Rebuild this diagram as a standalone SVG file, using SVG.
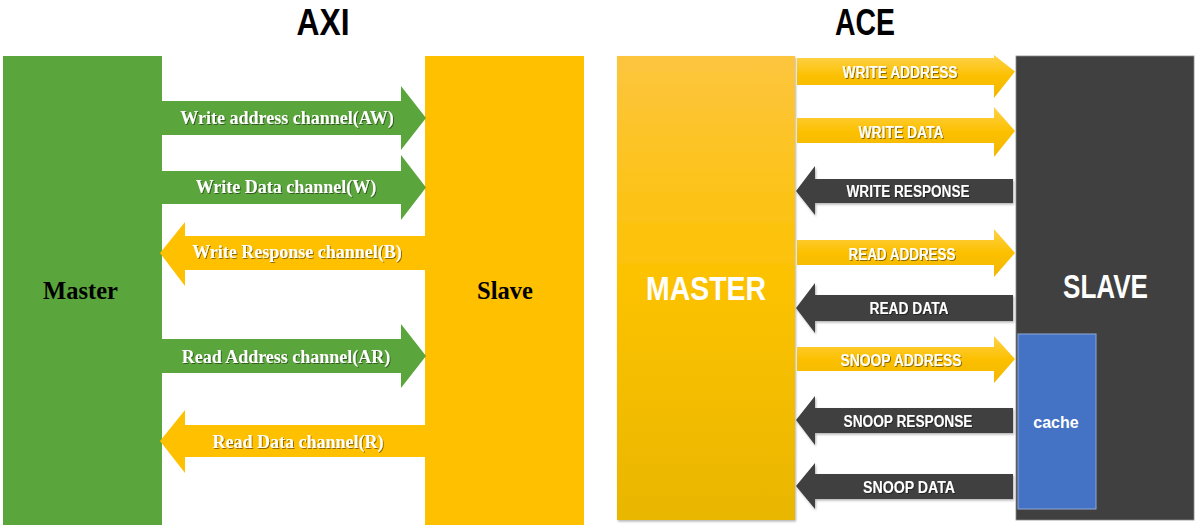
<svg xmlns="http://www.w3.org/2000/svg" width="1200" height="529" viewBox="0 0 1200 529">
<defs>
<linearGradient id="gMaster" x1="0" y1="0" x2="0" y2="1">
<stop offset="0" stop-color="#fdc53e"/>
<stop offset="0.5" stop-color="#fcc200"/>
<stop offset="1" stop-color="#e9b600"/>
</linearGradient>
<linearGradient id="gYel" x1="0" y1="0" x2="0" y2="1">
<stop offset="0" stop-color="#ffd24a"/>
<stop offset="0.5" stop-color="#fcc000"/>
<stop offset="1" stop-color="#f2b700"/>
</linearGradient>
<filter id="ts" x="-10%" y="-30%" width="120%" height="160%">
<feDropShadow dx="1" dy="1" stdDeviation="0.7" flood-color="#000" flood-opacity="0.45"/>
</filter>
<filter id="bs" x="-5%" y="-5%" width="110%" height="110%">
<feDropShadow dx="1" dy="1.5" stdDeviation="1.2" flood-color="#000" flood-opacity="0.3"/>
</filter>
</defs>
<style>
.title{font-family:"Liberation Sans",Arial,sans-serif;font-weight:bold;font-size:37px;fill:#000;text-anchor:middle}
.axl{font-family:"Liberation Serif","Times New Roman",serif;font-weight:bold;font-size:18px;fill:#fff;text-anchor:middle;filter:url(#ts)}
.axn{font-family:"Liberation Serif","Times New Roman",serif;font-weight:bold;font-size:24.5px;fill:#000;text-anchor:middle}
.acl{font-family:"Liberation Sans",Arial,sans-serif;font-weight:bold;font-size:16px;fill:#fff;text-anchor:middle;filter:url(#ts)}
.acn{font-family:"Liberation Sans",Arial,sans-serif;font-size:33px;fill:#fff;text-anchor:middle}
.green{fill:#5aa63c}
.orange{fill:#ffc000}
.yel{fill:url(#gYel)}
.dark{fill:#404040;filter:url(#bs)}
</style>

<text class="title" x="323" y="35" textLength="53" lengthAdjust="spacingAndGlyphs">AXI</text>
<text class="title" x="865" y="35" textLength="60" lengthAdjust="spacingAndGlyphs">ACE</text>

<g id="axi-master">
<rect x="3" y="56" width="159" height="469" class="green"/>
<text class="axn" x="80.5" y="299">Master</text>
</g>
<g id="axi-slave">
<rect x="425" y="56" width="159" height="469" class="orange"/>
<text class="axn" x="505" y="299">Slave</text>
</g>

<g id="ace-master">
<rect x="617" y="56" width="178" height="464" fill="url(#gMaster)" filter="url(#bs)"/>
<text class="acn" x="706" y="300" font-weight="600" textLength="120" lengthAdjust="spacingAndGlyphs">MASTER</text>
</g>
<g id="ace-slave">
<rect x="1016" y="56" width="178" height="464" fill="#404040" stroke="#8a8a8a" stroke-width="0.8"/>
<text class="acn" x="1105.5" y="298" font-weight="bold" textLength="85" lengthAdjust="spacingAndGlyphs">SLAVE</text>
</g>
<g id="ace-cache">
<rect x="1018" y="334" width="78" height="175" fill="#4472c4" stroke="#8fa9d8" stroke-width="1"/>
<text x="1056" y="428" font-family="Liberation Sans, Arial, sans-serif" font-weight="bold" font-size="16" fill="#fff" text-anchor="middle">cache</text>
</g>

<g id="connectors">
<g id="axi-aw">
<polygon class="green" points="161,101 401,101 401,86 426,118 401,150 401,135 161,135"/>
<text class="axl" x="287" y="124">Write address channel(AW)</text>
</g>
<g id="axi-w">
<polygon class="green" points="161,171 401,171 401,155 426,187.5 401,220 401,204 161,204"/>
<text class="axl" x="286" y="193">Write Data channel(W)</text>
</g>
<g id="axi-b">
<polygon class="orange" points="425,236 185,236 185,222 160,253 185,286 185,270 425,270"/>
<text class="axl" x="297" y="258">Write Response channel(B)</text>
</g>
<g id="axi-ar">
<polygon class="green" points="161,339 401,339 401,324 426,356 401,388 401,373 161,373"/>
<text class="axl" x="286" y="363">Read Address channel(AR)</text>
</g>
<g id="axi-r">
<polygon class="orange" points="425,425 185,425 185,410 160,441 185,473 185,457 425,457"/>
<text class="axl" x="298" y="448">Read Data channel(R)</text>
</g>

<g id="ace-wa">
<polygon class="yel" points="797,58 994,58 994,55 1015,71.5 994,98 994,85 797,85"/>
<text class="acl" x="900" y="78" textLength="115" lengthAdjust="spacingAndGlyphs">WRITE ADDRESS</text>
</g>
<g id="ace-wd">
<polygon class="yel" points="797,118 994,118 994,107 1015,131 994,157 994,143 797,143"/>
<text class="acl" x="901" y="137.5" textLength="85" lengthAdjust="spacingAndGlyphs">WRITE DATA</text>
</g>
<g id="ace-wr">
<polygon class="dark" points="1013,179 815,179 815,166 796,191 815,215 815,203 1013,203"/>
<text class="acl" x="908" y="197" textLength="123" lengthAdjust="spacingAndGlyphs">WRITE RESPONSE</text>
</g>
<g id="ace-ra">
<polygon class="yel" points="797,240 994,240 994,229 1015,253 994,277 994,265 797,265"/>
<text class="acl" x="902" y="259.5" textLength="107" lengthAdjust="spacingAndGlyphs">READ ADDRESS</text>
</g>
<g id="ace-rd">
<polygon class="dark" points="1013,295 815,295 815,283 796,308 815,333 815,321 1013,321"/>
<text class="acl" x="909" y="314" textLength="79" lengthAdjust="spacingAndGlyphs">READ DATA</text>
</g>
<g id="ace-sa">
<polygon class="yel" points="797,347 994,347 994,336 1015,359 994,383 994,371 797,371"/>
<text class="acl" x="901" y="365.5" textLength="121" lengthAdjust="spacingAndGlyphs">SNOOP ADDRESS</text>
</g>
<g id="ace-sr">
<polygon class="dark" points="1013,408 815,408 815,396 796,420 815,445 815,433 1013,433"/>
<text class="acl" x="908" y="426.5" textLength="129" lengthAdjust="spacingAndGlyphs">SNOOP RESPONSE</text>
</g>
<g id="ace-sd">
<polygon class="dark" points="1013,474 815,474 815,463 796,486 815,509 815,499 1013,499"/>
<text class="acl" x="909" y="492.5" textLength="92" lengthAdjust="spacingAndGlyphs">SNOOP DATA</text>
</g>
</g>
</svg>
